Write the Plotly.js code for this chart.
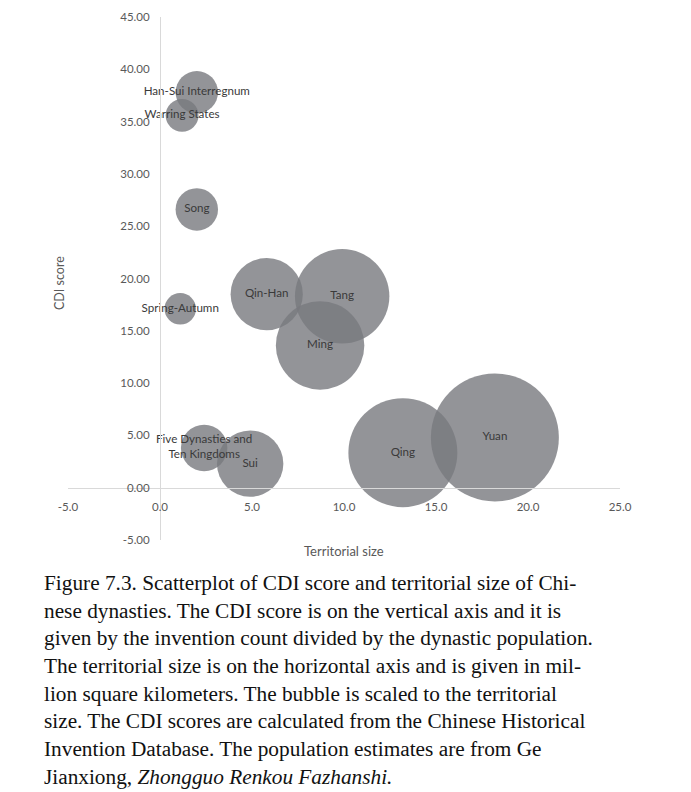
<!DOCTYPE html>
<html>
<head>
<meta charset="utf-8">
<script src="https://cdn.plot.ly/plotly-3.0.1.min.js"></script>
<style>html,body{margin:0;padding:0;background:#fff;}#chart{width:691px;height:792px;}</style>
</head>
<body>
<div id="chart"></div>
<script>
// Data
const dynasties = ["Han-Sui Interregnum", "Warring States", "Song", "Spring-Autumn", "Qin-Han", "Tang", "Ming", "Five Dynasties and<br>Ten Kingdoms", "Sui", "Qing", "Yuan"];
const territorialSize = [2.0, 1.2, 2.0, 1.1, 5.8, 9.9, 8.7, 2.4, 4.9, 13.2, 18.2];
const cdiScore = [37.8, 35.6, 26.6, 17.1, 18.5, 18.3, 13.6, 3.8, 2.3, 3.35, 4.8];
const xTicks = [-5, 0, 5, 10, 15, 20, 25];
const xTickLabels = ["-5.0", "0.0", "5.0", "10.0", "15.0", "20.0", "25.0"];
const yTicks = [-5, 0, 5, 10, 15, 20, 25, 30, 35, 40, 45];
const yTickLabels = ["-5.00", "0.00", "5.00", "10.00", "15.00", "20.00", "25.00", "30.00", "35.00", "40.00", "45.00"];

const caption = "Figure 7.3. Scatterplot of CDI score and territorial size of Chi-<br>" +
  "nese dynasties. The CDI score is on the vertical axis and it is<br>" +
  "given by the invention count divided by the dynastic population.<br>" +
  "The territorial size is on the horizontal axis and is given in mil-<br>" +
  "lion square kilometers. The bubble is scaled to the territorial<br>" +
  "size. The CDI scores are calculated from the Chinese Historical<br>" +
  "Invention Database. The population estimates are from Ge<br>" +
  "Jianxiong, <i>Zhongguo Renkou Fazhanshi.</i>";

const trace = {
  type: "scatter",
  mode: "markers+text",
  x: territorialSize,
  y: cdiScore,
  text: dynasties,
  textposition: "middle center",
  textfont: {family: "Lato, 'Open Sans', sans-serif", size: 11.6, color: "#3a3a3a"},
  marker: {
    size: territorialSize,
    sizemode: "area",
    sizeref: 1 / 450,
    color: "rgb(120,121,126)",
    opacity: 0.8,
    line: {width: 0}
  },
  hoverinfo: "x+y+text",
  cliponaxis: false
};

const layout = {
  width: 691,
  height: 792,
  margin: {l: 68, r: 71, t: 17, b: 252},
  paper_bgcolor: "#fff",
  plot_bgcolor: "#fff",
  showlegend: false,
  font: {family: "Lato, 'Open Sans', sans-serif", color: "#595959", size: 11},
  xaxis: {
    range: [-5, 25],
    tickvals: xTicks,
    ticktext: xTickLabels,
    showgrid: false,
    zeroline: false,
    showline: true,
    linecolor: "#d9d9d9",
    linewidth: 1.3,
    ticks: "",
    anchor: "free",
    position: 0.1,
    ticklabelstandoff: 8,
    tickfont: {size: 11.5, color: "#595959"}
  },
  yaxis: {
    range: [-5, 45],
    tickvals: yTicks,
    ticktext: yTickLabels,
    showgrid: false,
    zeroline: false,
    showline: true,
    linecolor: "#d9d9d9",
    linewidth: 1.3,
    ticks: "",
    anchor: "free",
    position: 5 / 30,
    ticklabelstandoff: 8,
    tickfont: {size: 11.5, color: "#595959"}
  },
  annotations: [
    {
      text: "CDI score", xref: "paper", yref: "paper",
      x: (60 - 68) / 552, y: (540 - 283) / 523, textangle: -90,
      showarrow: false, xanchor: "center", yanchor: "middle",
      font: {size: 12.5, color: "#595959"}
    },
    {
      text: "Territorial size", xref: "paper", yref: "paper",
      x: (344 - 68) / 552, y: (540 - 551) / 523,
      showarrow: false, xanchor: "center", yanchor: "middle",
      font: {size: 13, color: "#595959"}
    },
    {
      text: caption, xref: "paper", yref: "paper",
      x: (42 - 68) / 552, y: (540 - 569) / 523,
      showarrow: false, xanchor: "left", yanchor: "top", align: "left",
      font: {family: "'Liberation Serif', 'DejaVu Serif', serif", size: 21.3, color: "#111"}
    }
  ]
};

Plotly.newPlot("chart", [trace], layout, {displayModeBar: false, staticPlot: true});
</script>
</body>
</html>
